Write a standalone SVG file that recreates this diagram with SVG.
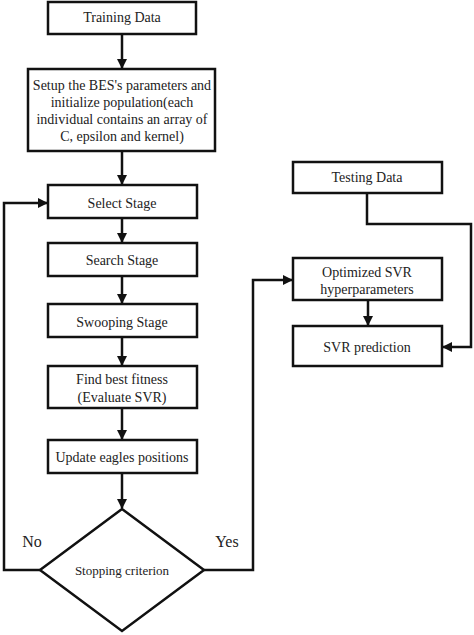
<svg xmlns="http://www.w3.org/2000/svg" width="474" height="635" viewBox="0 0 474 635">
<style>
.box{fill:#fff;stroke:#111;stroke-width:2.5}
.t{font-family:'Liberation Serif','Times New Roman',serif;font-size:14px;fill:#222;text-anchor:middle}
.c{fill:none;stroke:#111;stroke-width:2.5}
</style>
<defs>
<marker id="ah" markerWidth="10" markerHeight="10" refX="9" refY="5" orient="auto" markerUnits="userSpaceOnUse">
<path d="M0,0 L10,5 L0,10 Z" fill="#111"/>
</marker>
</defs>
<rect width="474" height="635" fill="#fff"/>
<g id="connectors">
<line class="c" x1="122" y1="34" x2="122" y2="68" marker-end="url(#ah)"/>
<line class="c" x1="122" y1="151" x2="122" y2="184" marker-end="url(#ah)"/>
<line class="c" x1="122" y1="218" x2="122" y2="242" marker-end="url(#ah)"/>
<line class="c" x1="122" y1="276" x2="122" y2="303" marker-end="url(#ah)"/>
<line class="c" x1="122" y1="337" x2="122" y2="365" marker-end="url(#ah)"/>
<line class="c" x1="122" y1="408" x2="122" y2="439" marker-end="url(#ah)"/>
<line class="c" x1="122" y1="473" x2="122" y2="508" marker-end="url(#ah)"/>
<polyline class="c" points="40,570 4,570 4,203 47,203" marker-end="url(#ah)"/>
<polyline class="c" points="204,570 253,570 253,280 292,280" marker-end="url(#ah)"/>
<line class="c" x1="368" y1="300" x2="368" y2="325" marker-end="url(#ah)"/>
<polyline class="c" points="367,193 367,224 471,224 471,347 443,347" marker-end="url(#ah)"/>
</g>
<g id="training"><rect class="box" x="48" y="2" width="148" height="32"/><text class="t" x="122" y="22">Training Data</text></g>
<g id="setup"><rect class="box" x="28" y="69" width="187" height="82"/>
<text class="t" x="122" y="90">Setup the BES's parameters and</text>
<text class="t" x="122" y="107">initialize population(each</text>
<text class="t" x="122" y="124">individual contains an array of</text>
<text class="t" x="122" y="141">C, epsilon and kernel)</text></g>
<g id="select"><rect class="box" x="48" y="185" width="149" height="33"/><text class="t" x="122" y="208">Select Stage</text></g>
<g id="search"><rect class="box" x="48" y="243" width="149" height="33"/><text class="t" x="122" y="265">Search Stage</text></g>
<g id="swoop"><rect class="box" x="48" y="304" width="149" height="33"/><text class="t" x="122" y="327">Swooping Stage</text></g>
<g id="fitness"><rect class="box" x="48" y="366" width="149" height="42"/>
<text class="t" x="122" y="384">Find best fitness</text>
<text class="t" x="122" y="402">(Evaluate SVR)</text></g>
<g id="update"><rect class="box" x="48" y="440" width="149" height="33"/><text class="t" x="122" y="462">Update eagles positions</text></g>
<g id="stop"><polygon class="box" points="122,509 204,570 122,631 40,570"/><text class="t" x="122" y="575" style="font-size:13px">Stopping criterion</text></g>
<g id="labels">
<text class="t" x="32" y="547" style="font-size:16px">No</text>
<text class="t" x="227" y="547" style="font-size:16px">Yes</text>
</g>
<g id="testing"><rect class="box" x="293" y="162" width="149" height="31"/><text class="t" x="367" y="182">Testing Data</text></g>
<g id="optimized"><rect class="box" x="293" y="258" width="149" height="42"/>
<text class="t" x="367" y="277">Optimized SVR</text>
<text class="t" x="367" y="294">hyperparameters</text></g>
<g id="prediction"><rect class="box" x="293" y="326" width="149" height="40"/><text class="t" x="367" y="352">SVR prediction</text></g>
</svg>
